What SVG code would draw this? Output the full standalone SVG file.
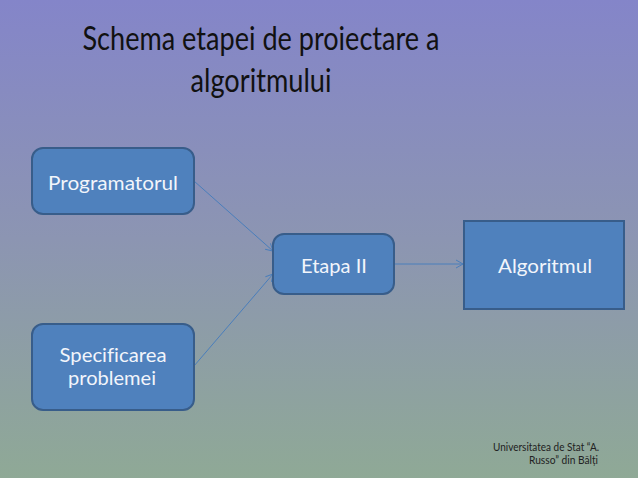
<svg xmlns="http://www.w3.org/2000/svg" width="638" height="478" viewBox="0 0 638 478">
<defs>
<linearGradient id="bg" x1="0" y1="0" x2="0" y2="1">
<stop offset="0" stop-color="#8485c9"/>
<stop offset="0.5" stop-color="#8c95b2"/>
<stop offset="1" stop-color="#8fa996"/>
</linearGradient>
<marker id="arr" markerWidth="10" markerHeight="10" refX="8" refY="5" orient="auto" markerUnits="userSpaceOnUse">
<path d="M1,1 L8,5 L1,9" fill="none" stroke="#4a7ebb" stroke-width="1"/>
</marker>
</defs>
<style>
text{font-variant-ligatures:none}
.box{fill:#4f81bd;stroke:#385d8a;stroke-width:2}
.lbl{font-family:Lato,"Open Sans","Liberation Sans",sans-serif;font-size:19px;fill:#f2f5fb;text-anchor:middle}
.title{font-family:Lato,"Open Sans","Liberation Sans",sans-serif;font-size:33px;fill:#111;text-anchor:middle}
.foot{font-family:Lato,"Open Sans","Liberation Sans",sans-serif;font-size:11px;fill:#222;text-anchor:end}
.conn{stroke:#4a7ebb;stroke-width:1;fill:none}
</style>
<rect width="638" height="478" fill="url(#bg)"/>
<g id="title">
<text class="title" x="261" y="50" textLength="357" lengthAdjust="spacingAndGlyphs">Schema etapei de proiectare a</text>
<text class="title" x="261" y="92" textLength="141" lengthAdjust="spacingAndGlyphs">algoritmului</text>
</g>
<g id="connectors">
<line class="conn" x1="194" y1="181" x2="273" y2="251" marker-end="url(#arr)"/>
<line class="conn" x1="194" y1="366" x2="273" y2="274" marker-end="url(#arr)"/>
<line class="conn" x1="394" y1="264" x2="463" y2="264" marker-end="url(#arr)"/>
</g>
<g id="programatorul">
<rect class="box" x="32" y="148" width="162" height="66" rx="11"/>
<text class="lbl" x="113" y="190" textLength="130" lengthAdjust="spacingAndGlyphs">Programatorul</text>
</g>
<g id="specificarea">
<rect class="box" x="32" y="324" width="162" height="86" rx="11"/>
<text class="lbl" x="113" y="362" textLength="107" lengthAdjust="spacingAndGlyphs">Specificarea</text>
<text class="lbl" x="112" y="385" textLength="88" lengthAdjust="spacingAndGlyphs">problemei</text>
</g>
<g id="etapa">
<rect class="box" x="273" y="234" width="121" height="60" rx="11"/>
<text class="lbl" x="334" y="273" textLength="66" lengthAdjust="spacingAndGlyphs">Etapa II</text>
</g>
<g id="algoritmul">
<rect class="box" x="464" y="221" width="160" height="88"/>
<text class="lbl" x="545" y="273" textLength="94" lengthAdjust="spacingAndGlyphs">Algoritmul</text>
</g>
<g id="footer">
<text class="foot" x="599" y="451" textLength="106" lengthAdjust="spacingAndGlyphs">Universitatea de Stat “A.</text>
<text class="foot" x="598" y="464" textLength="69" lengthAdjust="spacingAndGlyphs">Russo” din Bălți</text>
</g>
</svg>
